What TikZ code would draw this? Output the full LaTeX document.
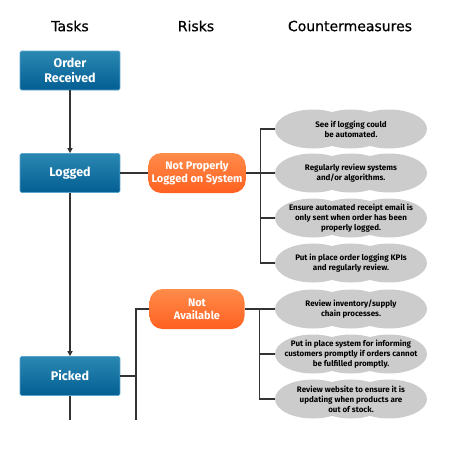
\documentclass[tikz,border=0pt]{standalone}
\usepackage{fontspec}
\setmainfont{Fira Sans}
\newfontfamily\headfont{DejaVu Sans}[FakeBold=0.6]
\usetikzlibrary{calc}
\usetikzlibrary{arrows.meta}

\definecolor{taskTop}{HTML}{2B88B2}
\definecolor{taskBot}{HTML}{035E93}
\definecolor{taskRim}{HTML}{5AA5CB}
\definecolor{riskTop}{HTML}{FF8C4A}
\definecolor{riskBot}{HTML}{FF6020}
\definecolor{cloudGray}{HTML}{CCCCCC}
\definecolor{lineGray}{HTML}{333333}

\tikzset{
  header/.style={font=\headfont\fontsize{14}{16}\selectfont},
  task/.style={rectangle, rounded corners=1.5pt, minimum width=100pt, minimum height=39pt,
    top color=taskTop, bottom color=taskBot, draw=taskRim, line width=0.6pt,
    text=white, align=center, font=\bfseries\fontsize{12.5}{15}\selectfont},
  risk/.style={rectangle, rounded corners=13pt, minimum width=95pt, minimum height=40pt,
    top color=riskTop, bottom color=riskBot, text=white, align=center,
    font=\bfseries\fontsize{11}{13}\selectfont},
  counter/.style={align=center, inner sep=0pt, font=\bfseries\fontsize{8}{10}\selectfont},
  link/.style={draw=lineGray, line width=1.2pt},
  flow/.style={link, -{Triangle[length=5pt,width=5pt]}}
}

\begin{document}
\begin{tikzpicture}[x=1pt,y=-1pt]
    \useasboundingbox (0,0) rectangle (470,450);

    % Column titles
    \node[header] (hTasks) at (70,26) {Tasks};
    \node[header] (hRisks) at (196,26) {Risks};
    \node[header] (hCounter) at (350,26) {Countermeasures};

    % Tasks
    \node[task] (order)  at (70,70.5) {Order\\Received};
    \node[task] (logged) at (70,173) {Logged};
    \node[task] (picked) at (70,376) {Picked};

    % Risks
    \node[risk] (notlogged) at (197,173) {Not Properly\\Logged on System};
    \node[risk] (notavail)  at (197,309) {Not\\Available};

    % Countermeasures
    \foreach \cid/\y/\txt in {
        c1/129/{See if logging could\\be automated.},
        c2/173/{Regularly review systems\\and/or algorithms.},
        c3/218/{Ensure automated receipt email is\\only sent when order has been\\properly logged.},
        c4/263/{Put in place order logging KPIs\\and regularly review.},
        c5/309/{Review inventory/supply\\chain processes.},
        c6/354/{Put in place system for informing\\customers promptly if orders cannot\\be fulfilled promptly.},
        c7/399/{Review website to ensure it is\\updating when products are\\out of stock.}} {
      \fill[cloudGray] (313,\y) ellipse [x radius=38pt, y radius=19.5pt]
                       (351,\y) ellipse [x radius=38pt, y radius=19.5pt]
                       (389,\y) ellipse [x radius=38pt, y radius=19.5pt];
      \node[counter] (\cid) at (351,\y) {\txt};
      \coordinate (\cid in) at (275,\y);
    }

    % Free ends at the foot of the page
    \coordinate (taskend)  at (70,420);
    \coordinate (pickspine) at (136,420);

    % Task flow
    \draw[flow] (order) -- (logged);
    \draw[flow] (logged) -- (picked);
    \draw[link] (picked) -- (taskend);

    % Logged -> risk -> countermeasures
    \draw[link] (logged) -- (notlogged);
    \coordinate (bL) at ($(notlogged.east)!0.5!(c2in)$);
    \draw[link] (notlogged.east) -- (c2in);
    \draw[link] (c1in) -| (bL) |- (c4in);
    \draw[link] (bL |- c3in) -- (c3in);

    % Picked -> risk -> countermeasures
    \draw[link] (notavail.west) -| (pickspine);
    \draw[link] (picked.east) -- (picked.east -| pickspine);
    \coordinate (bA) at ($(notavail.east)!0.5!(c5in)$);
    \draw[link] (notavail.east) -- (c5in);
    \draw[link] (bA) |- (c7in);
    \draw[link] (bA |- c6in) -- (c6in);
\end{tikzpicture}
\end{document}
